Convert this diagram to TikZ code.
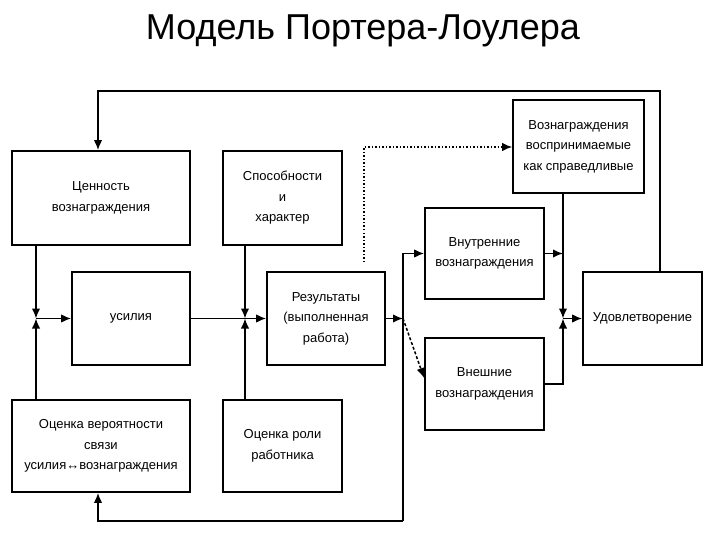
\documentclass[tikz,border=0pt]{standalone}
\usepackage{fontspec}
\setmainfont{Liberation Sans}
\usetikzlibrary{arrows.meta}
\begin{document}
\begin{tikzpicture}[x=1pt,y=-1pt,
  box/.style={draw, line width=1.8pt, inner sep=0pt, align=center,
    font=\fontsize{13}{20.5}\selectfont},
  conn/.style={line width=1.5pt},
  arr/.style={conn, -{Latex[length=10pt,width=8.5pt]}},
  ttl/.style={font=\fontsize{36}{40}\selectfont, anchor=base}]
\useasboundingbox (0,0) rectangle (720,540);
\node[ttl] (title) at (363,40) {Модель Портера-Лоулера};
% boxes
\node[box, minimum width=178pt, minimum height=94pt] (val) at (101,198) {Ценность\\вознаграждения};
\node[box, minimum width=119pt, minimum height=94pt] (abil) at (282.5,198) {Способности\\и\\характер};
\node[box, minimum width=118pt, minimum height=93pt] (eff) at (131,318.5) {усилия};
\node[box, minimum width=118pt, minimum height=93pt] (res) at (326,318.5) {Результаты\\(выполненная\\работа)};
\node[box, minimum width=178pt, minimum height=92pt] (prob) at (101,446) {Оценка вероятности\\связи\\усилия↔вознаграждения};
\node[box, minimum width=119pt, minimum height=92pt] (role) at (282.5,446) {Оценка роли\\работника};
\node[box, minimum width=131pt, minimum height=93pt] (fair) at (578.5,146.5) {Вознаграждения\\воспринимаемые\\как справедливые};
\node[box, minimum width=119pt, minimum height=91pt] (intr) at (484.5,253.5) {Внутренние\\вознаграждения};
\node[box, minimum width=119pt, minimum height=92pt] (extr) at (484.5,384) {Внешние\\вознаграждения};
\node[box, minimum width=119pt, minimum height=93pt] (sat) at (642.5,318.5) {Удовлетворение};
% junctions and bends
\coordinate (j1) at (36,318.5);
\coordinate (j2) at (245,318.5);
\coordinate (j3) at (403,318.5);
\coordinate (j4) at (563,318.5);
\coordinate (t3) at (403,253.5);
\coordinate (b3) at (403,521);
\coordinate (b1) at (98,521);
\coordinate (tf) at (660,91);
\coordinate (tl) at (98,91);
\coordinate (d0) at (364,262);
\coordinate (d1) at (364,147);
% connectors
\draw[arr] (val.south -| j1) -- (j1);
\draw[arr] (prob.north -| j1) -- (j1);
\draw[arr] (j1) -- (eff.west);
\draw[conn] (eff.east) -- (j2);
\draw[arr] (abil.south -| j2) -- (j2);
\draw[arr] (role.north -| j2) -- (j2);
\draw[arr] (j2) -- (res.west);
\draw[arr] (res.east) -- (j3);
\draw[arr] (b3) -- (t3) -- (intr.west);
\draw[arr] (b3) -- (b1) -- (prob.south -| b1);
\draw[arr, densely dashed] (j3) -- ([yshift=6pt]extr.west);
\draw[arr] (sat.north -| tf) -- (tf) -- (tl) -- (val.north -| tl);
\draw[arr] (intr.east) -- (intr.east -| j4);
\draw[arr] (fair.south -| j4) -- (j4);
\draw[arr] (extr.east) -| (j4);
\draw[arr] (j4) -- (sat.west);
\draw[arr, dotted, line width=1.3pt] (d0) -- (d1) -- (d1 -| fair.west);
\end{tikzpicture}
\end{document}
